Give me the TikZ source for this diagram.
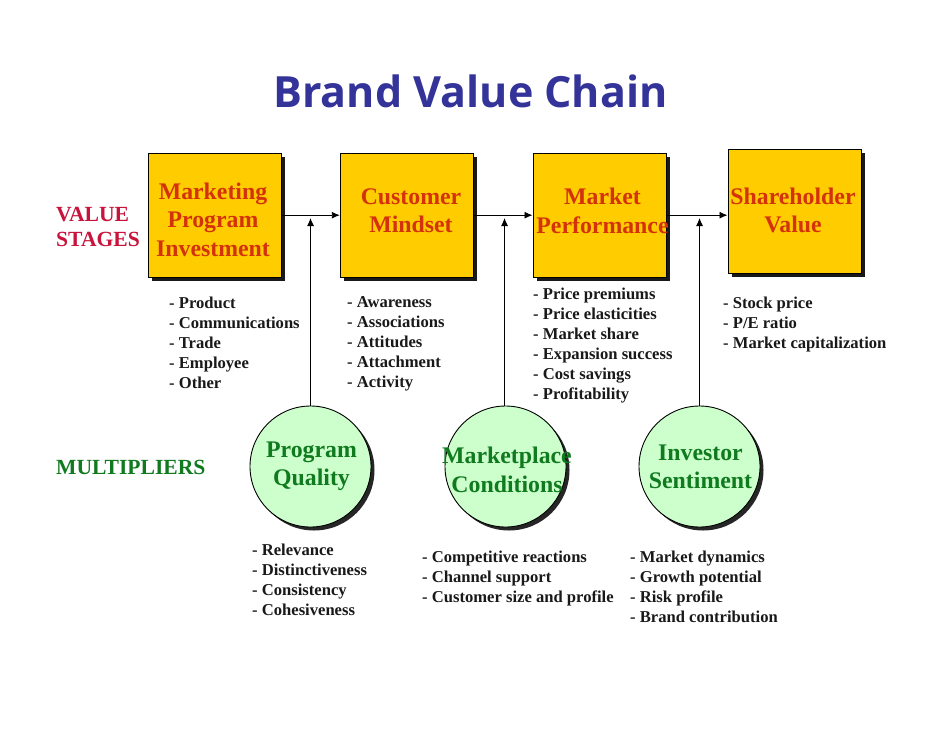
\documentclass[tikz,border=0pt]{standalone}
\usepackage{fontspec}
\setmainfont{Liberation Serif}
\newfontfamily\titlefont{Open Sans}
\definecolor{boxfill}{HTML}{FFCC00}
\definecolor{boxtext}{HTML}{D4320A}
\definecolor{stagecol}{HTML}{C8143C}
\definecolor{greentext}{HTML}{0F7A1E}
\definecolor{circfill}{HTML}{CCFFCC}
\definecolor{titlecol}{HTML}{333399}
\tikzset{
  stagebox/.style={draw=black,line width=1pt,fill=boxfill,minimum width=133pt,minimum height=124pt,inner sep=0pt,
    preaction={draw=none,fill=black!90,transform canvas={xshift=3.5pt,yshift=-3.5pt}}},
  multcirc/.style={circle,draw=black,line width=0.9pt,fill=circfill,minimum size=121pt,inner sep=0pt,
    preaction={draw=none,fill=black!85,transform canvas={xshift=3.5pt,yshift=-3.5pt}}},
  stagetext/.style={font=\bfseries\fontsize{23.8}{28.5}\selectfont,text=boxtext,align=center,inner sep=0pt},
  multtext/.style={font=\bfseries\fontsize{23.8}{28.5}\selectfont,text=greentext,align=center,inner sep=0pt},
  sidelabel/.style={font=\bfseries\fontsize{21.6}{25}\selectfont,align=left,inner sep=0pt,anchor=west},
  listtext/.style={font=\bfseries\fontsize{16.6}{20}\selectfont,align=left,inner sep=0pt,anchor=north west,text=black!90},
  flow/.style={line width=0.9pt,-{Latex[length=8pt,width=7pt]}},
}
\usetikzlibrary{arrows.meta}
\begin{document}
\begin{tikzpicture}[x=1pt,y=-1pt]
\useasboundingbox (0,0) rectangle (942,728);
\fill[white] (0,0) rectangle (942,728);
\node[font=\titlefont\bfseries\fontsize{43}{50}\selectfont,text=titlecol,inner sep=0pt] (title) at (470.5,91.5) {Brand Value Chain};

\node[stagebox] (b1) at (215,215.2) {};
\node[stagebox] (b2) at (406.8,215.2) {};
\node[stagebox] (b3) at (599.5,215.2) {};
\node[stagebox] (b4) at (794.5,211) {};

\node[multcirc] (c1) at (310.5,466.5) {};
\node[multcirc] (c2) at (505.5,466.5) {};
\node[multcirc] (c3) at (699.5,466.5) {};

\coordinate (j1) at (310.5,218);
\coordinate (j2) at (504.5,218);
\coordinate (j3) at (699.5,218);

\draw[flow] (b1.east) -- (b2.west);
\draw[flow] (b2.east) -- (b3.west);
\draw[flow] (b3.east) -- (b3.east -| b4.west);
\draw[flow] (c1.north) -- (j1);
\draw[flow] (c2.north -| j2) -- (j2);
\draw[flow] (c3.north) -- (j3);

\node[stagetext] (t1) at (213,219.5) {Marketing\\Program\\Investment};
\node[stagetext] (t2) at (411,210.5) {Customer\\Mindset};
\node[stagetext] (t3) at (602.5,211) {Market\\Performance};
\node[stagetext] (t4) at (793,210.5) {Shareholder\\Value};
\node[multtext] (m1) at (311.5,466.5) {Program\\Quality};
\node[multtext] (m2) at (507,470) {Marketplace\\Conditions};
\node[multtext] (m3) at (700.5,467) {Investor\\Sentiment};

\node[sidelabel,text=stagecol] (vs) at (56,226.5) {VALUE\\STAGES};
\node[sidelabel,text=greentext] (ml) at (56,467.5) {MULTIPLIERS};

\node[listtext] (l1) at (169,296.5) {- Product\\- Communications\\- Trade\\- Employee\\- Other};
\node[listtext] (l2) at (347,296.5) {- Awareness\\- Associations\\- Attitudes\\- Attachment\\- Activity};
\node[listtext] (l3) at (533,287.5) {- Price premiums\\- Price elasticities\\- Market share\\- Expansion success\\- Cost savings\\- Profitability};
\node[listtext] (l4) at (723,296.5) {- Stock price\\- P/E ratio\\- Market capitalization};
\node[listtext] (l5) at (252,543.5) {- Relevance\\- Distinctiveness\\- Consistency\\- Cohesiveness};
\node[listtext] (l6) at (422,550.5) {- Competitive reactions\\- Channel support\\- Customer size and profile};
\node[listtext] (l7) at (630,550.5) {- Market dynamics\\- Growth potential\\- Risk profile\\- Brand contribution};
\end{tikzpicture}
\end{document}
